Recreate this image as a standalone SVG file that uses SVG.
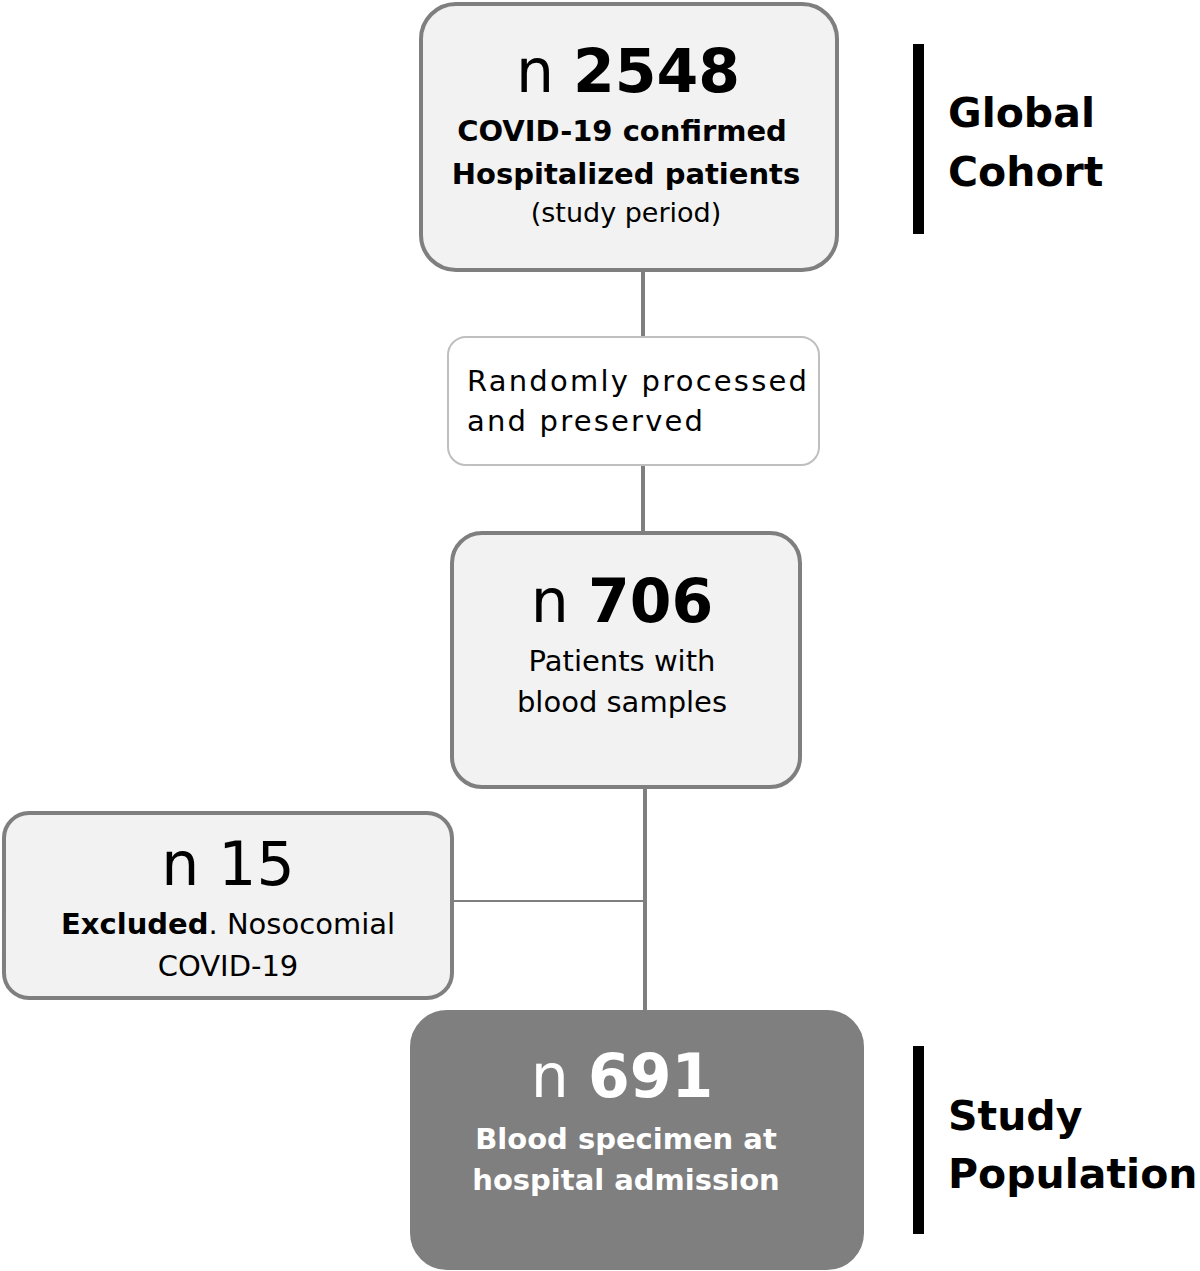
<svg xmlns="http://www.w3.org/2000/svg" width="1200" height="1271" viewBox="0 0 1200 1271">
<style>
text{font-family:"DejaVu Sans","Noto Sans",sans-serif;fill:#000}
.c{text-anchor:middle}
.b{font-weight:bold}
.big{font-size:60px}
.m{font-size:29px}
.w{fill:#fff}
.side{font-size:41px;font-weight:bold}
.box{fill:#f2f2f2;stroke:#7f7f7f;stroke-width:4}
</style>
<g id="connectors" stroke="#7f7f7f" fill="none">
<line x1="643" y1="270" x2="643" y2="337" stroke-width="4"/>
<line x1="643" y1="465" x2="643" y2="533" stroke-width="4"/>
<line x1="645" y1="787" x2="645" y2="1012" stroke-width="4"/>
<line x1="452" y1="901" x2="645" y2="901" stroke-width="2"/>
</g>
<g id="n2548">
<rect class="box" x="421" y="4" width="416" height="266" rx="35"/>
<text class="c big" x="628" y="92">n <tspan class="b">2548</tspan></text>
<text class="c m b" x="622" y="141">COVID-19 confirmed</text>
<text class="c m b" x="626" y="184">Hospitalized patients</text>
<text class="c" font-size="27" x="626" y="222">(study period)</text>
</g>
<g id="random">
<rect x="448" y="337" width="371" height="128" rx="18" fill="#fff" stroke="#bfbfbf" stroke-width="2"/>
<text class="m" x="467" y="391" textLength="340" lengthAdjust="spacing">Randomly processed</text>
<text class="m" x="467" y="431" textLength="236" lengthAdjust="spacing">and preserved</text>
</g>
<g id="n706">
<rect class="box" x="452" y="533" width="348" height="254" rx="30"/>
<text class="c big" x="622" y="622">n <tspan class="b">706</tspan></text>
<text class="c m" x="622" y="671">Patients with</text>
<text class="c m" x="622" y="712">blood samples</text>
</g>
<g id="n15">
<rect class="box" x="4" y="813" width="448" height="185" rx="25"/>
<text class="c big" x="228" y="885">n 15</text>
<text class="c m" x="228" y="934"><tspan class="b">Excluded</tspan>. Nosocomial</text>
<text class="c m" x="228" y="976">COVID-19</text>
</g>
<g id="n691">
<rect x="412" y="1012" width="450" height="256" rx="35" fill="#7f7f7f" stroke="#7f7f7f" stroke-width="4"/>
<text class="c big w" x="622" y="1097">n <tspan class="b">691</tspan></text>
<text class="c m b w" x="626" y="1149">Blood specimen at</text>
<text class="c m b w" x="626" y="1190">hospital admission</text>
</g>
<g id="global">
<rect x="913" y="44" width="11" height="190" fill="#000"/>
<text class="side" x="948" y="127">Global</text>
<text class="side" x="948" y="186">Cohort</text>
</g>
<g id="study">
<rect x="913" y="1046" width="11" height="188" fill="#000"/>
<text class="side" x="948" y="1130">Study</text>
<text class="side" x="948" y="1188">Population</text>
</g>
</svg>
